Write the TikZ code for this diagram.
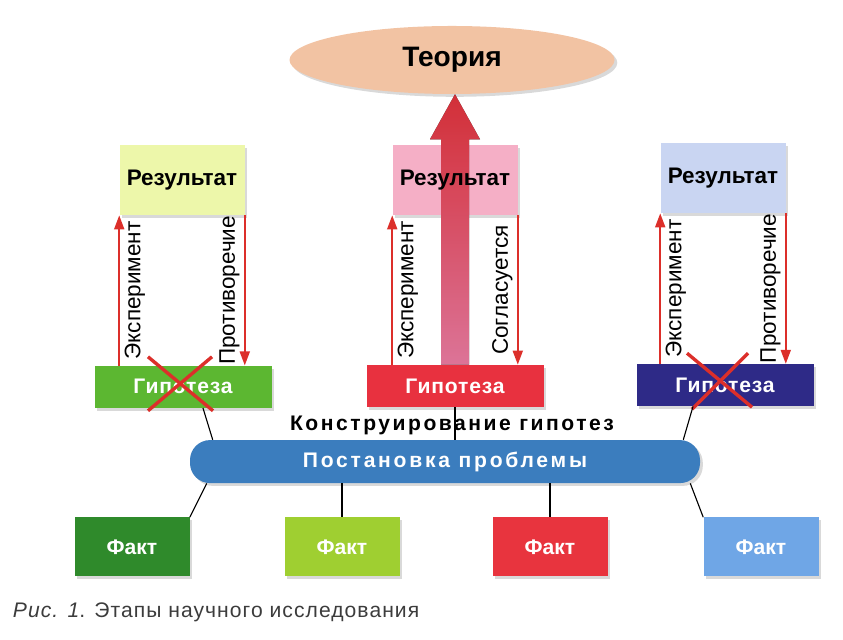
\documentclass[tikz,border=0pt]{standalone}
\usepackage{fontspec}
\setmainfont{Liberation Sans}
\usetikzlibrary{calc, shapes, shadows, arrows.meta}
\definecolor{theorycol}{HTML}{F2C3A3}
\definecolor{resAcol}{HTML}{EDF7AA}
\definecolor{resBcol}{HTML}{F5AFC6}
\definecolor{resCcol}{HTML}{C9D5F2}
\definecolor{hypAcol}{HTML}{5CB731}
\definecolor{hypBcol}{HTML}{E8313F}
\definecolor{hypCcol}{HTML}{2E2A87}
\definecolor{barcol}{HTML}{3B7DBE}
\definecolor{factAcol}{HTML}{2F8A2B}
\definecolor{factBcol}{HTML}{9FCF31}
\definecolor{factCcol}{HTML}{E8343E}
\definecolor{factDcol}{HTML}{6FA6E6}
\definecolor{arrowred}{HTML}{DC2F2A}
\definecolor{bigtop}{HTML}{E8323C}
\definecolor{bigbot}{HTML}{F27FA6}
\definecolor{capgray}{HTML}{3C3C3C}
\tikzset{
  boxshadow/.style={drop shadow={opacity=0.3, shadow xshift=2pt, shadow yshift=-2pt}},
  resbox/.style={boxshadow, minimum width=3.125cm, minimum height=1.75cm, inner sep=0pt,
    font=\bfseries\fontsize{16}{19}\selectfont},
  hypbox/.style={boxshadow, minimum width=4.425cm, minimum height=1.05cm, inner sep=0pt, text=white,
    font=\bfseries\fontsize{15}{18}\selectfont\addfontfeatures{LetterSpace=4}},
  factbox/.style={boxshadow, minimum width=2.875cm, minimum height=1.475cm, inner sep=0pt, text=white,
    font=\bfseries\fontsize{15}{18}\selectfont},
  flow/.style={draw=arrowred, line width=1.6pt, -{Triangle[length=10pt,width=7pt]}},
  vlabel/.style={rotate=90, inner sep=3pt, font=\fontsize{16}{19}\selectfont},
  crossline/.style={draw=arrowred, line width=2.4pt},
  link/.style={draw=black, line width=0.8pt}
}
\begin{document}
\begin{tikzpicture}
\useasboundingbox (0,0) rectangle (21.075,16);
\node[ellipse, fill=theorycol, boxshadow, minimum width=8.125cm, minimum height=1.7cm, inner sep=0pt,
  font=\bfseries\fontsize{20}{24}\selectfont] (theory) at (11.3,14.5) {Теория};
\node[resbox, fill=resAcol] (resA) at (4.55,11.5) {Результат};
\node[resbox, fill=resBcol] (resB) at (11.375,11.5) {};
\node[resbox, fill=resCcol] (resC) at (18.075,11.55) {Результат};
\node[hypbox, fill=hypAcol] (hypA) at (4.575,6.33) {Гипотеза};
\node[hypbox, fill=hypBcol] (hypB) at (11.375,6.35) {Гипотеза};
\node[hypbox, fill=hypCcol] (hypC) at (18.125,6.37) {Гипотеза};
\fill[top color=bigtop, bottom color=bigbot, opacity=0.9]
  ($(hypB.north)+(-0.35,0)$) -- ($(hypB.north |- theory.south)+(-0.35,-1.125)$)
  -- ($(hypB.north |- theory.south)+(-0.625,-1.125)$) -- (hypB.north |- theory.south)
  -- ($(hypB.north |- theory.south)+(0.625,-1.125)$) -- ($(hypB.north |- theory.south)+(0.35,-1.125)$)
  -- ($(hypB.north)+(0.35,0)$) -- cycle;
\node[font=\bfseries\fontsize{16}{19}\selectfont] (resBtext) at (resB.center) {Результат};
\draw[flow] (resA.south west |- hypA.north) -- node[vlabel, anchor=north] {Эксперимент} (resA.south west);
\draw[flow] (resA.south east) -- node[vlabel, anchor=south] {Противоречие} (resA.south east |- hypA.north);
\draw[flow] (resB.south west |- hypB.north) -- node[vlabel, anchor=north] {Эксперимент} (resB.south west);
\draw[flow] (resB.south east) -- node[vlabel, anchor=south] {Согласуется} (resB.south east |- hypB.north);
\draw[flow] (resC.south west |- hypC.north) -- node[vlabel, anchor=north] {Эксперимент} (resC.south west);
\draw[flow] (resC.south east) -- node[vlabel, anchor=south] {Противоречие} (resC.south east |- hypC.north);
\draw[crossline] ($(hypA.center)+(-0.875,0.75)$) -- ($(hypA.center)+(0.75,-0.6)$);
\draw[crossline] ($(hypA.center)+(0.725,0.75)$) -- ($(hypA.center)+(-0.875,-0.6)$);
\draw[crossline] ($(hypC.center)+(-0.95,0.8)$) -- ($(hypC.center)+(0.675,-0.55)$);
\draw[crossline] ($(hypC.center)+(0.575,0.8)$) -- ($(hypC.center)+(-0.825,-0.6)$);
\node[rectangle, rounded corners=0.5cm, fill=barcol, boxshadow, minimum width=12.75cm, minimum height=1.075cm,
  text=white, font=\bfseries\fontsize{15}{18}\selectfont\addfontfeatures{LetterSpace=13}] (bar) at (11.125,4.46) {Постановка проблемы};
\node[factbox, fill=factAcol] (factA) at (3.3,2.325) {Факт};
\node[factbox, fill=factBcol] (factB) at (8.55,2.325) {Факт};
\node[factbox, fill=factCcol] (factC) at (13.75,2.325) {Факт};
\node[factbox, fill=factDcol] (factD) at (19.025,2.325) {Факт};
\draw[link] ($(hypA.south)+(0.5,0)$) -- ($(bar.north west)+(0.575,0)$);
\draw[link] (hypB.south) -- (hypB.south |- bar.north);
\draw[link] ($(hypC.south)+(-0.8,0)$) -- ($(bar.north east)+(-0.425,0)$);
\node[font=\bfseries\fontsize{15}{18}\selectfont\addfontfeatures{LetterSpace=12}] (construct) at (11.3,5.375) {Конструирование гипотез};
\draw[link] ($(bar.south west)+(0.425,0)$) -- (factA.north east);
\draw[link] (factB.north |- bar.south) -- (factB.north);
\draw[link] (factC.north |- bar.south) -- (factC.north);
\draw[link] ($(bar.south east)+(-0.25,0)$) -- (factD.north west);
\node[anchor=west, text=capgray, font=\fontsize{15}{18}\selectfont\addfontfeatures{LetterSpace=5}] (caption) at (0.2,0.7)
  {\textit{Рис. 1}. Этапы научного исследования};
\end{tikzpicture}
\end{document}
